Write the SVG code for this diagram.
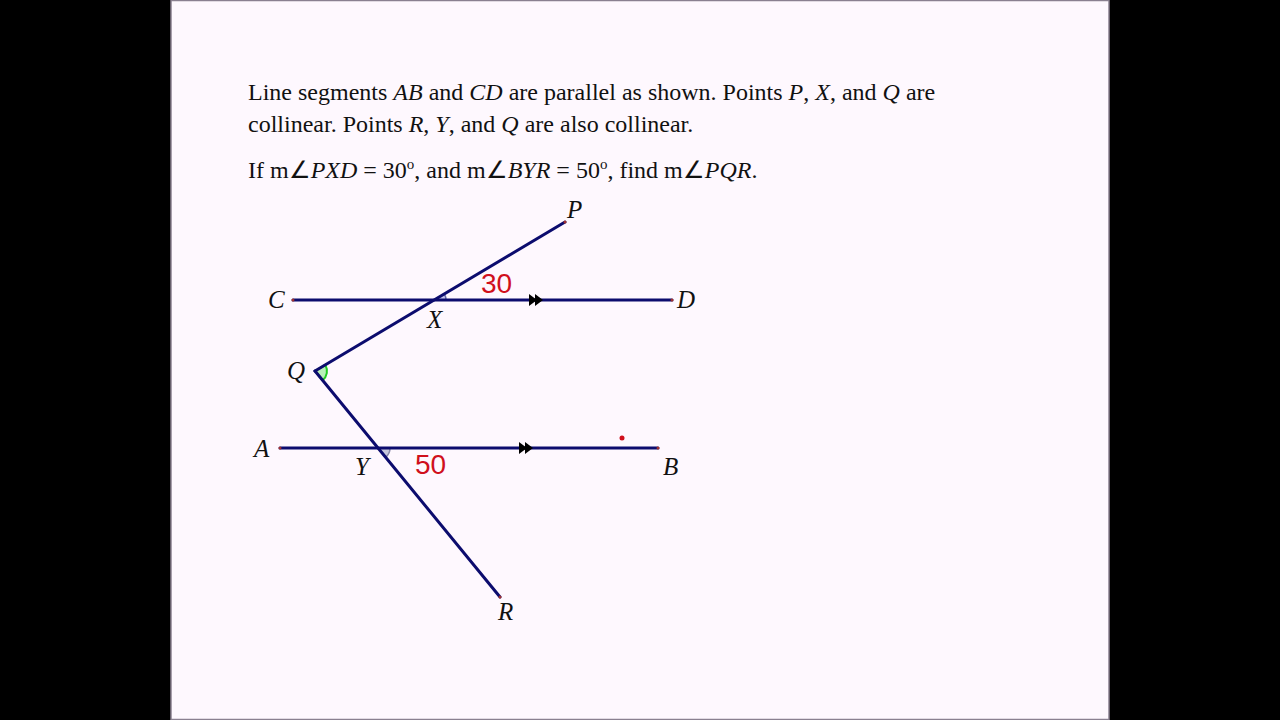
<svg xmlns="http://www.w3.org/2000/svg" width="1280" height="720" viewBox="0 0 1280 720">
<defs>
<style>
.t{font-family:"Liberation Serif","Times New Roman",serif;font-size:24px;fill:#111}
.i{font-style:italic}
.lbl{font-family:"Liberation Serif","Times New Roman",serif;font-size:25px;font-style:italic;fill:#111}
.num{font-family:"Liberation Sans",Arial,sans-serif;font-size:28px;fill:#d0101c}
.ln{stroke:#0c0c6e;stroke-width:3;fill:none;stroke-linecap:round}
</style>
</defs>
<rect x="0" y="0" width="1280" height="720" fill="#000"/>
<rect x="171" y="0.5" width="938" height="719" fill="#fef8fe" stroke="#8a8090" stroke-width="1.5"/>
<g id="text">
<text class="t" x="248" y="100">Line segments <tspan class="i">AB</tspan> and <tspan class="i">CD</tspan> are parallel as shown. Points <tspan class="i">P</tspan>, <tspan class="i">X</tspan>, and <tspan class="i">Q</tspan> are</text>
<text class="t" x="248" y="132">collinear. Points <tspan class="i">R</tspan>, <tspan class="i">Y</tspan>, and <tspan class="i">Q</tspan> are also collinear.</text>
<text class="t" x="248" y="178">If m∠<tspan class="i">PXD</tspan> = 30<tspan font-size="15" dy="-9">o</tspan><tspan dy="9">, and m∠</tspan><tspan class="i">BYR</tspan> = 50<tspan font-size="15" dy="-9">o</tspan><tspan dy="9">, find m∠</tspan><tspan class="i">PQR</tspan>.</text>
</g>
<g id="angles">
<path d="M434,300 L446,300 A12,12 0 0 0 444.3,293.8 Z" fill="#c8c8ee" stroke="#6a6aa8" stroke-width="1.5"/>
<path d="M315,371 L325.3,364.9 A12,12 0 0 1 322.6,380.3 Z" fill="#b8f0b8" stroke="#22cc22" stroke-width="2"/>
<path d="M378,448 L390,448 A12,12 0 0 1 385.6,457.3 Z" fill="#c8c8dc" stroke="#8888a8" stroke-width="1.5"/>
</g>
<g id="connectors">
<line class="ln" x1="293" y1="300" x2="672" y2="300"/>
<line class="ln" x1="280" y1="448" x2="658" y2="448"/>
<line class="ln" x1="315" y1="371" x2="565" y2="222"/>
<line class="ln" x1="315" y1="371" x2="500" y2="597"/>
<path d="M529,294 L537,300 L529,306 Z M535,294 L543,300 L535,306 Z" fill="#000"/>
<path d="M519,442 L527,448 L519,454 Z M525,442 L533,448 L525,454 Z" fill="#000"/>
</g>
<g id="points">
<circle cx="293" cy="300" r="1.5" fill="#a03030"/>
<circle cx="672" cy="300" r="1.5" fill="#a03030"/>
<circle cx="280" cy="448" r="1.5" fill="#a03030"/>
<circle cx="658" cy="448" r="1.5" fill="#a03030"/>
<circle cx="565" cy="222" r="1.5" fill="#a03030"/>
<circle cx="500" cy="597" r="1.5" fill="#a03030"/>
<circle cx="622" cy="438" r="2.5" fill="#d0101c"/>
</g>
<g id="labels">
<text class="lbl" x="268" y="308">C</text>
<text class="lbl" x="677" y="308">D</text>
<text class="lbl" x="567" y="218">P</text>
<text class="lbl" x="427" y="328">X</text>
<text class="lbl" x="287" y="379">Q</text>
<text class="lbl" x="254" y="457">A</text>
<text class="lbl" x="663" y="475">B</text>
<text class="lbl" x="355" y="475">Y</text>
<text class="lbl" x="498" y="620">R</text>
<text class="num" x="481" y="293">30</text>
<text class="num" x="415" y="474">50</text>
</g>
</svg>
